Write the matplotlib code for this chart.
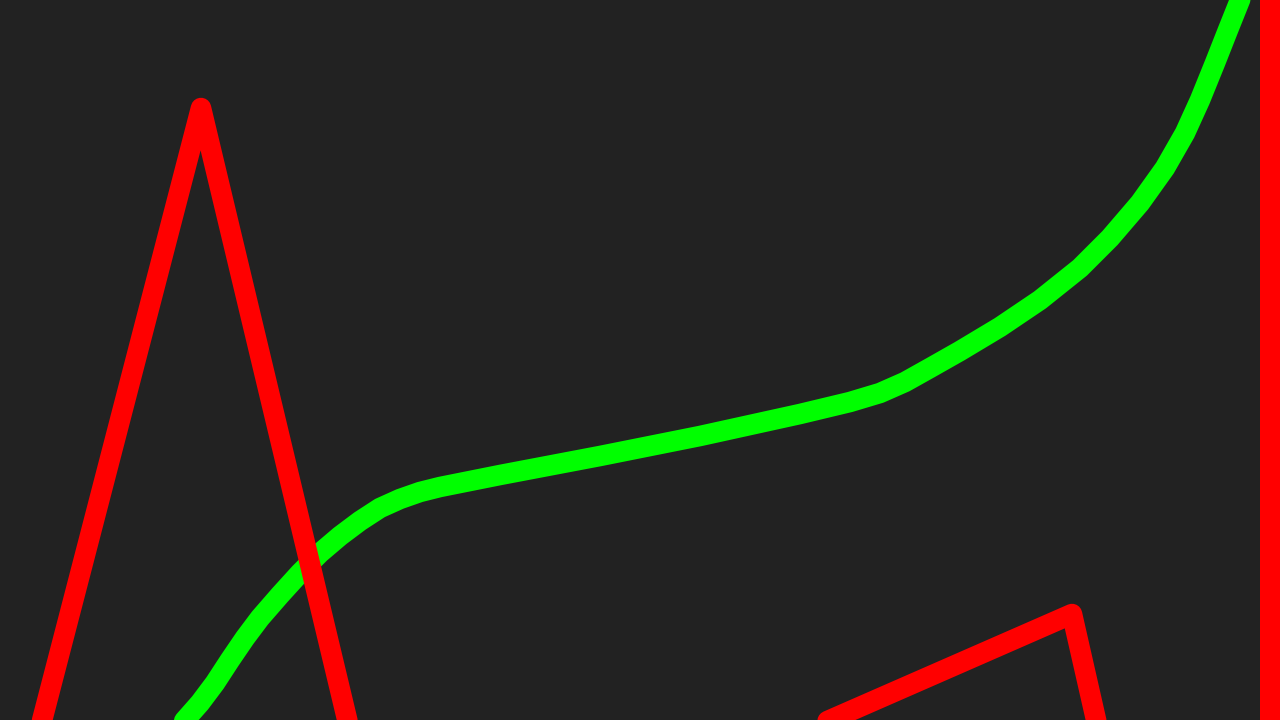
import matplotlib
matplotlib.use("Agg")
import matplotlib.pyplot as plt

# Data (in screen-space units of the reference, y grows downward)
red_x = [24, 201, 364, 670, 1072, 1112]
red_y = [790, 108, 790, 790, 614, 790]

green_x = [160, 185, 200, 215, 230, 245, 260, 280, 300, 320, 340, 360, 380,
           400, 420, 440, 470, 500, 600, 700, 800, 850, 880, 905, 930, 960,
           1000, 1040, 1080, 1110, 1140, 1165, 1185, 1200, 1215, 1228, 1240, 1252]
green_y = [750, 720, 703, 683, 660, 638, 618, 595, 573, 553, 536, 521, 508,
           499, 492, 487, 481, 475, 456, 436, 414, 402, 393, 382, 368, 351,
           327, 300, 268, 238, 203, 168, 133, 100, 63, 30, 0, -35]

edge_x = [1272, 1272]
edge_y = [-20, 740]

BG = "#222222"
RED = "#ff0000"
GREEN = "#00ff00"
LW = 20.5 * 72 / 100  # ~20 px

fig = plt.figure(figsize=(12.8, 7.2), dpi=100, facecolor=BG)
ax = fig.add_axes([0, 0, 1, 1])
ax.set_facecolor(BG)
ax.set_xlim(0, 1280)
ax.set_ylim(720, 0)
ax.axis("off")

ax.plot(green_x, green_y, color=GREEN, lw=LW, solid_joinstyle="round", solid_capstyle="round")
ax.plot(red_x, red_y, color=RED, lw=LW, solid_joinstyle="round", solid_capstyle="round")
ax.plot(edge_x, edge_y, color=RED, lw=24 * 72 / 100, solid_capstyle="butt")

fig.savefig("out.png", dpi=100, facecolor=BG)
